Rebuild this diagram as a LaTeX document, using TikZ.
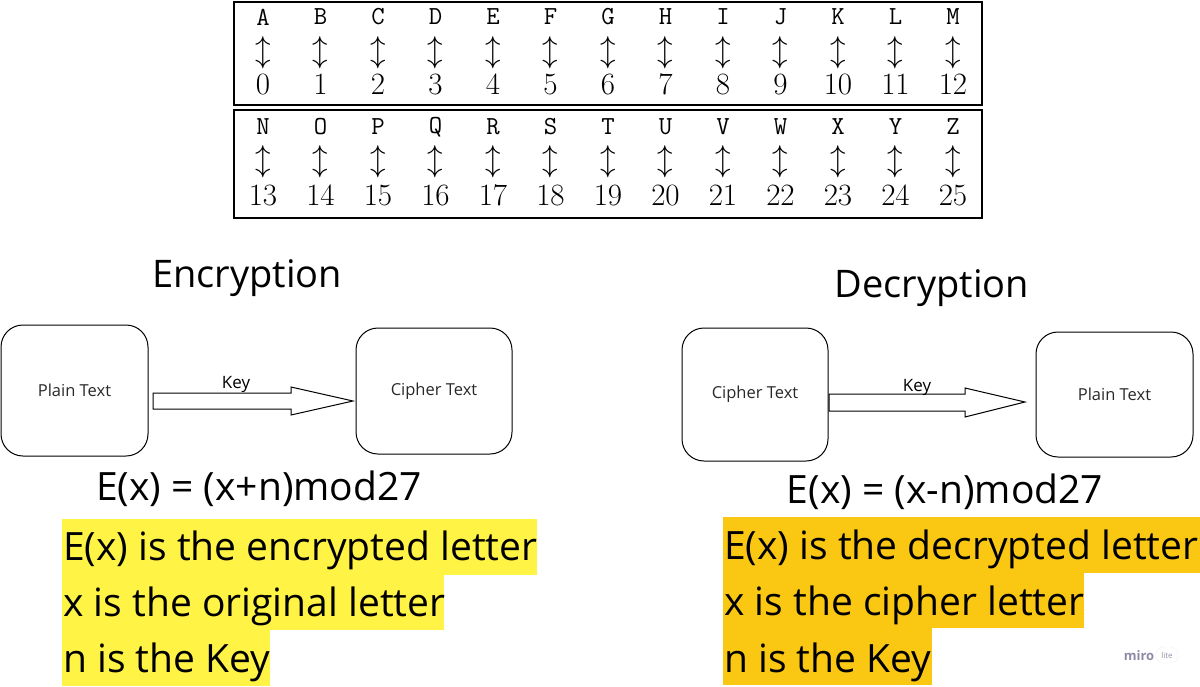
\documentclass[tikz,border=0pt]{standalone}
\usepackage{fix-cm}
\usepackage{fontspec}
\setmainfont{Open Sans}
\definecolor{hlyellow}{RGB}{255,243,69}
\definecolor{hlorange}{RGB}{250,199,18}
\definecolor{mirogray}{RGB}{120,118,150}
\definecolor{boxtext}{RGB}{40,40,40}
\begin{document}
\begin{tikzpicture}[x=1pt,y=-1pt,
  tbl/.style={draw, line width=2.5pt},
  ltr/.style={font=\fontsize{26}{26}\ttfamily, inner sep=0pt},
  num/.style={font=\fontsize{31}{31}\selectfont, inner sep=0pt},
  box/.style={draw, line width=1pt, rounded corners=22pt, inner sep=0pt, text=boxtext, font=\fontsize{16.5}{16.5}\selectfont},
  blockarrow/.style={draw, line width=1pt, fill=white, line join=miter},
  keylbl/.style={font=\fontsize{17}{17}\selectfont, anchor=base, inner sep=0pt},
  title/.style={font=\fontsize{38}{38}\selectfont, anchor=base, inner sep=0pt},
  formula/.style={font=\fontsize{39}{39}\selectfont, anchor=base, inner sep=0pt},
  hltext/.style={font=\fontsize{39}{39}\selectfont, anchor=base west, inner sep=0pt}
]
\useasboundingbox (0,0) rectangle (1200,686);

% ---- letter/number tables ----
\draw[tbl] (234,2) rectangle (982,105);
\draw[tbl] (234,110) rectangle (982,218);
\foreach \L [count=\i from 0] in {A,B,C,D,E,F,G,H,I,J,K,L,M}{
  \node[ltr] (l\i) at (263+57.5*\i,17) {\L};
  \node[num] (a\i) at (263+57.5*\i,53) {$\updownarrow$};
  \node[num] (n\i) at (263+57.5*\i,85) {$\i$};
}
\foreach \L [count=\i from 0] in {N,O,P,Q,R,S,T,U,V,W,X,Y,Z}{
  \pgfmathtruncatemacro{\k}{\i+13}
  \node[ltr] (l\k) at (263+57.5*\i,127) {\L};
  \node[num] (a\k) at (263+57.5*\i,162) {$\updownarrow$};
  \node[num] (n\k) at (263+57.5*\i,196) {$\k$};
}

% ---- Encryption ----
\node[title] (enctitle) at (247,287) {Encryption};
\node[box, minimum width=147pt, minimum height=131pt] (encplain) at (74.5,390.5) {Plain Text};
\node[box, minimum width=156pt, minimum height=126pt] (enccipher) at (434,391) {Cipher Text};
\draw[blockarrow] (153,393) -- (291,393) -- (291,387) -- (353,401) -- (291,415) -- (291,409) -- (153,409) -- cycle;
\node[keylbl] (enckey) at (236,388) {Key};
\node[formula] (encformula) at (259,500) {E(x) = (x+n)mod27};

\fill[hlyellow] (62,519) rectangle (537,575);
\fill[hlyellow] (62,575) rectangle (444,630);
\fill[hlyellow] (62,630) rectangle (270,686);
\node[hltext] (enc1) at (63,560) {E(x) is the encrypted letter};
\node[hltext] (enc2) at (63,616) {x is the original letter};
\node[hltext] (enc3) at (63,672) {n is the Key};

% ---- Decryption ----
\node[title] (dectitle) at (932,297) {Decryption};
\node[box, minimum width=146pt, minimum height=133pt] (deccipher) at (755,394.5) {Cipher Text};
\node[box, minimum width=157pt, minimum height=125pt] (decplain) at (1114.5,394.5) {Plain Text};
\draw[blockarrow] (829,394) -- (965,394) -- (965,388) -- (1025,402) -- (965,417) -- (965,411) -- (829,411) -- cycle;
\node[keylbl] (deckey) at (917,391) {Key};
\node[formula] (decformula) at (945,503) {E(x) = (x-n)mod27};

\fill[hlorange] (723,517) rectangle (1200,573);
\fill[hlorange] (723,573) rectangle (1084,628);
\fill[hlorange] (723,628) rectangle (932,685);
\node[hltext] (dec1) at (724,559) {E(x) is the decrypted letter};
\node[hltext] (dec2) at (724,615) {x is the cipher letter};
\node[hltext] (dec3) at (724,672) {n is the Key};

% ---- watermark ----
\node[font=\fontsize{13}{13}\bfseries\selectfont, text=mirogray, opacity=0.85, anchor=base, inner sep=0pt] (miro) at (1139,660) {miro};
\node[draw=black!6, fill=white, rounded corners=7pt, minimum width=22pt, minimum height=16pt, inner sep=0pt,
      font=\fontsize{8}{8}\selectfont, text=mirogray!80] (lite) at (1167,655) {lite};
\end{tikzpicture}
\end{document}
